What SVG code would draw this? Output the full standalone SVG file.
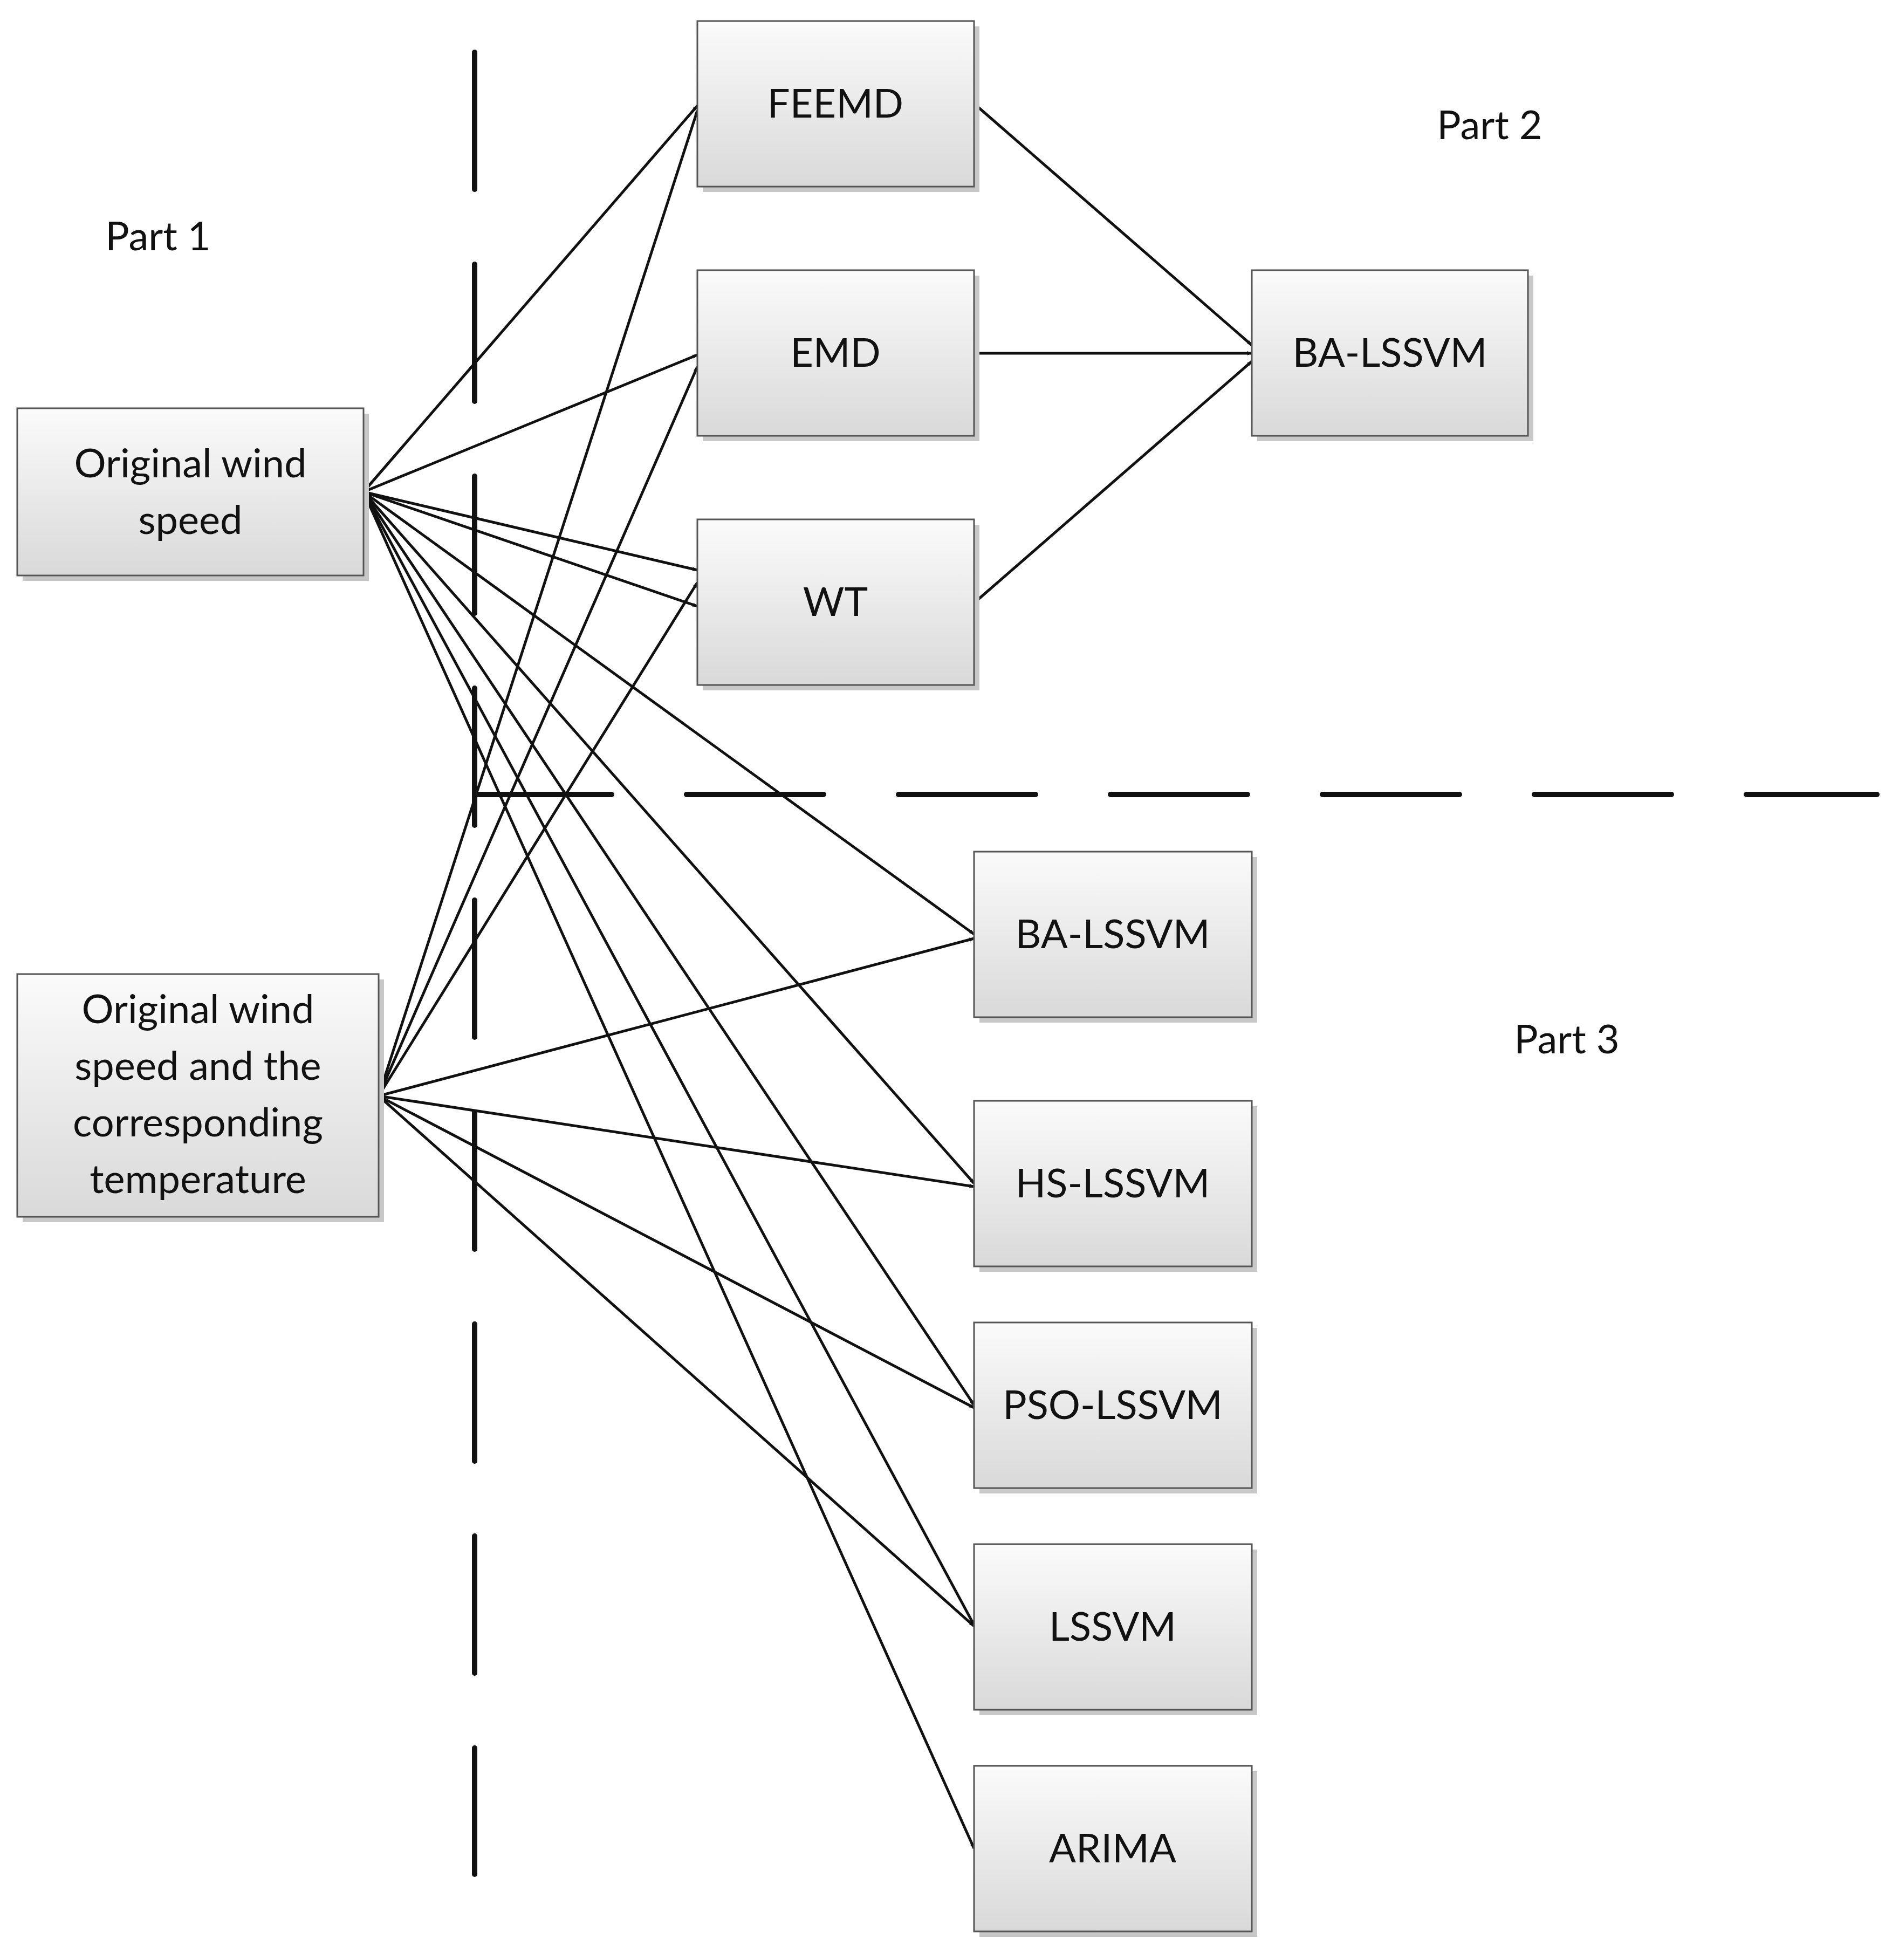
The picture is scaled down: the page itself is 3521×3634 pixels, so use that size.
<svg xmlns="http://www.w3.org/2000/svg" width="3521" height="3634" viewBox="0 0 3521 3634">
<defs>
<linearGradient id="g" x1="0" y1="0" x2="0" y2="1"><stop offset="0" stop-color="#fbfbfb"/><stop offset="1" stop-color="#d9d9d9"/></linearGradient>
<marker id="a" markerWidth="10" markerHeight="8" refX="9" refY="4" orient="auto" markerUnits="userSpaceOnUse" viewBox="0 0 10 8"><path d="M0,0 L10,4 L0,8 L2,4 z" fill="#111"/></marker>
<style>
.b{fill:url(#g);stroke:#555;stroke-width:3}
.s{fill:#c8c8c8}
.t{font-family:Lato,"Open Sans","Liberation Sans",sans-serif;font-size:74px;fill:#111;text-anchor:middle}
.c{stroke:#111;stroke-width:5;fill:none}
.c line{marker-end:url(#a)}
.d{stroke:#111;stroke-width:10;stroke-linecap:round;stroke-dasharray:254 139;fill:none}
</style>
</defs>
<rect width="3521" height="3634" fill="#fff"/>
<g id="dashes">
<line class="d" x1="880" y1="97" x2="880" y2="3475"/>
<line class="d" x1="880" y1="1473" x2="3480" y2="1473"/>
</g>
<g class="c" id="connectors">
<line x1="674" y1="912" x2="1293" y2="196" style="marker-end:url(#a)"/>
<line x1="674" y1="912" x2="1293" y2="658"/>
<line x1="674" y1="912" x2="1293" y2="1057"/>
<line x1="674" y1="912" x2="1293" y2="1124"/>
<line x1="674" y1="912" x2="1806" y2="1732"/>
<line x1="674" y1="912" x2="1806" y2="2194"/>
<line x1="674" y1="912" x2="1806" y2="2605"/>
<line x1="674" y1="912" x2="1806" y2="3013"/>
<line x1="674" y1="912" x2="1806" y2="3427"/>
<line x1="702" y1="2032" x2="1293" y2="205"/>
<line x1="702" y1="2032" x2="1293" y2="680"/>
<line x1="702" y1="2032" x2="1293" y2="1080"/>
<line x1="702" y1="2032" x2="1806" y2="1740"/>
<line x1="702" y1="2032" x2="1806" y2="2200"/>
<line x1="702" y1="2032" x2="1806" y2="2610"/>
<line x1="702" y1="2032" x2="1806" y2="3015"/>
<line x1="1806" y1="192" x2="2321" y2="640"/>
<line x1="1806" y1="655" x2="2321" y2="655"/>
<line x1="1806" y1="1118" x2="2321" y2="670"/>
</g>
<g id="n1"><rect class="s" x="42" y="767" width="642" height="310"/><rect class="b" x="32" y="757" width="642" height="310"/><text class="t" x="353" y="885">Original wind</text><text class="t" x="353" y="990">speed</text></g>
<g id="n2"><rect class="s" x="42" y="1816" width="670" height="450"/><rect class="b" x="32" y="1806" width="670" height="450"/><text class="t" x="367" y="1897">Original wind</text><text class="t" x="367" y="2002">speed and the</text><text class="t" x="367" y="2107">corresponding</text><text class="t" x="367" y="2212">temperature</text></g>
<g id="feemd"><rect class="s" x="1303" y="49" width="513" height="307"/><rect class="b" x="1293" y="39" width="513" height="307"/><text class="t" x="1549" y="218">FEEMD</text></g>
<g id="emd"><rect class="s" x="1303" y="511" width="513" height="307"/><rect class="b" x="1293" y="501" width="513" height="307"/><text class="t" x="1549" y="680">EMD</text></g>
<g id="wt"><rect class="s" x="1303" y="973" width="513" height="307"/><rect class="b" x="1293" y="963" width="513" height="307"/><text class="t" x="1549" y="1142">WT</text></g>
<g id="ba2"><rect class="s" x="2331" y="511" width="512" height="307"/><rect class="b" x="2321" y="501" width="512" height="307"/><text class="t" x="2577" y="680">BA-LSSVM</text></g>
<g id="ba3"><rect class="s" x="1816" y="1589" width="515" height="307"/><rect class="b" x="1806" y="1579" width="515" height="307"/><text class="t" x="2063" y="1758">BA-LSSVM</text></g>
<g id="hs"><rect class="s" x="1816" y="2051" width="515" height="307"/><rect class="b" x="1806" y="2041" width="515" height="307"/><text class="t" x="2063" y="2220">HS-LSSVM</text></g>
<g id="pso"><rect class="s" x="1816" y="2462" width="515" height="307"/><rect class="b" x="1806" y="2452" width="515" height="307"/><text class="t" x="2063" y="2631">PSO-LSSVM</text></g>
<g id="lssvm"><rect class="s" x="1816" y="2873" width="515" height="307"/><rect class="b" x="1806" y="2863" width="515" height="307"/><text class="t" x="2063" y="3042">LSSVM</text></g>
<g id="arima"><rect class="s" x="1816" y="3284" width="515" height="307"/><rect class="b" x="1806" y="3274" width="515" height="307"/><text class="t" x="2063" y="3453">ARIMA</text></g>
<g id="labels">
<text class="t" x="293" y="464">Part 1</text>
<text class="t" x="2762" y="258">Part 2</text>
<text class="t" x="2905" y="1953">Part 3</text>
</g>
</svg>
